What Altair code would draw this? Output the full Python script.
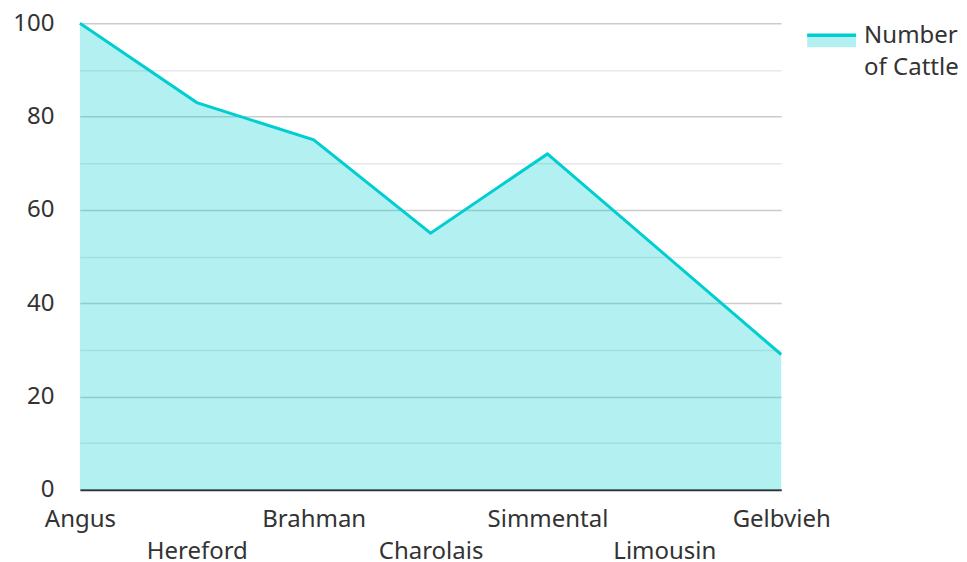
import altair as alt
import pandas as pd

breeds = ["Angus", "Hereford", "Brahman", "Charolais", "Simmental", "Limousin", "Gelbvieh"]
cattle = [100, 83, 75, 55, 72, 50.5, 29]
series_name = "Number of Cattle"
legend_lines = ["Number", "of Cattle"]
y_ticks = [0, 10, 20, 30, 40, 50, 60, 70, 80, 90, 100]

df = pd.DataFrame({"breed": breeds, "value": cattle})

LINE = "#00CED1"
FONT = "Noto Sans"
FS = 24
order_js = "[" + ",".join("'%s'" % b for b in breeds) + "]"

x_scale = alt.Scale(type="point", padding=0, domain=breeds)
x_enc = alt.X(
    "breed:N",
    sort=breeds,
    scale=x_scale,
    axis=alt.Axis(
        title=None,
        labelAngle=0,
        labelFontSize=FS,
        labelFont=FONT,
        labelColor="#333333",
        labelPadding=18,
        labelLineHeight=32,
        labelExpr=f"indexof({order_js}, datum.value) % 2 == 1 ? ['', datum.value] : datum.value",
        ticks=False,
        domainColor="#333333",
        domainWidth=2,
        grid=False,
    ),
)
y_enc = alt.Y(
    "value:Q",
    scale=alt.Scale(domain=[0, 100], nice=False),
    axis=alt.Axis(
        title=None,
        values=y_ticks,
        labelExpr="datum.value % 20 == 0 ? datum.label : ''",
        labelFontSize=FS,
        labelFont=FONT,
        labelColor="#333333",
        labelPadding=26,
        ticks=False,
        domain=False,
        gridColor={"condition": {"test": "datum.value % 20 == 0", "value": "#cccccc"}, "value": "#e8e8e8"},
        gridWidth=1.5,
    ),
)

base = alt.Chart(df)
area = base.mark_area(color=LINE, opacity=0.3).encode(x=x_enc, y=y_enc)
line = base.mark_line(color=LINE, strokeWidth=3).encode(
    x=alt.X("breed:N", sort=breeds, scale=x_scale), y="value:Q"
)

leg_df = pd.DataFrame({"t": [series_name]})
leg_line = alt.Chart(leg_df).mark_rule(color=LINE, strokeWidth=3.5).encode(
    x=alt.value(728), x2=alt.value(777), y=alt.value(12)
)
leg_area = alt.Chart(leg_df).mark_rect(color=LINE, opacity=0.3).encode(
    x=alt.value(728), x2=alt.value(777), y=alt.value(12), y2=alt.value(24)
)
leg_text = alt.Chart(pd.DataFrame({"lines": [legend_lines]})).mark_text(
    align="left", baseline="middle", fontSize=FS, font=FONT, color="#333333", lineHeight=32
).encode(x=alt.value(785), y=alt.value(13), text="lines:N")

chart = alt.layer(area, line, leg_area, leg_line, leg_text).properties(
    width=702, height=467, padding={"left": 4, "top": 3, "right": 0, "bottom": 8}
).configure_view(stroke=None)

chart.save("out.html", embed_options={"renderer": "svg", "actions": False})
